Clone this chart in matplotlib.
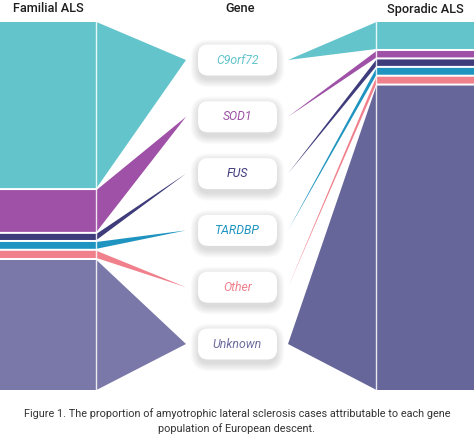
import matplotlib
matplotlib.use('Agg')
import matplotlib.pyplot as plt
from matplotlib.patches import Polygon, FancyBboxPatch

plt.rcParams['font.family'] = ['Roboto', 'DejaVu Sans']

# ==================== data ====================
genes = ['C9orf72', 'SOD1', 'FUS', 'TARDBP', 'Other', 'Unknown']
familial = [45.4, 11.9, 2.2, 2.4, 2.5, 35.6]    # % of familial ALS
sporadic = [7.6, 2.3, 2.3, 2.4, 2.4, 83.0]      # % of sporadic ALS
colors = ['#63c4cc', '#9e51a6', '#3f3c7c', '#1f94c0', '#f0808c', '#7a78a9']
colors_right = ['#63c4cc', '#9e51a6', '#3f3c7c', '#1f94c0', '#f0808c', '#67669a']
caption = ('Figure 1. The proportion of amyotrophic lateral sclerosis cases attributable to each gene\n'
           'population of European descent.')

# ==================== layout (pixels) ====================
W, H = 474, 438
TOP, BOT = 22, 390
GAP = 1.0
LX0, LX1, LTIP = 0, 96.5, 186
RX0, RX1, RTIP = 376.5, 474, 288
BOX_X, BOX_W, BOX_H = 198, 79, 31
CY0, CSTEP = 60, 56.8

fig = plt.figure(figsize=(W / 100, H / 100), dpi=100)
ax = fig.add_axes([0, 0, 1, 1])
ax.set_xlim(0, W)
ax.set_ylim(H, 0)
ax.axis('off')


def segments(vals):
    scale = (BOT - TOP) / sum(vals)
    out, y = [], TOP
    for v in vals:
        out.append((y, y + v * scale))
        y += v * scale
    return out


tips = [CY0 + i * CSTEP for i in range(len(genes))]

for (t, b), tip, c in zip(segments(familial), tips, colors):
    t2 = t + GAP if t > TOP else t
    b2 = b - GAP if b < BOT else b
    ax.add_patch(Polygon([(LX0, t2), (LX1, t2), (LTIP, tip), (LX1, b2), (LX0, b2)],
                         closed=True, fc=c, ec='none'))

for (t, b), tip, c in zip(segments(sporadic), tips, colors_right):
    t2 = t + GAP if t > TOP else t
    b2 = b - GAP if b < BOT else b
    ax.add_patch(Polygon([(RX1, t2), (RX0, t2), (RTIP, tip), (RX0, b2), (RX1, b2)],
                         closed=True, fc=c, ec='none'))

# thin white dividers
ax.plot([LX1, LX1], [TOP, BOT], color='white', lw=1, alpha=0.85)
ax.plot([RX0, RX0], [TOP, BOT], color='white', lw=1, alpha=0.85)

# gene label boxes with soft shadow
for g, cy, c in zip(genes, tips, colors_right[:5] + ['#6f6d9f']):
    for k in range(7):
        pad = 1 + k * 1.2
        ax.add_patch(FancyBboxPatch((BOX_X - pad + 1, cy - BOX_H / 2 - pad + 3.5), BOX_W + 2 * pad - 2,
                                    BOX_H + 2 * pad, boxstyle='round,pad=0,rounding_size=%g' % (10 + pad),
                                    fc='#000000', ec='none', alpha=0.02))
    ax.add_patch(FancyBboxPatch((BOX_X, cy - BOX_H / 2), BOX_W, BOX_H,
                                boxstyle='round,pad=0,rounding_size=10', fc='white', ec='none'))
    ax.text(BOX_X + BOX_W / 2, cy, g, ha='center', va='center', fontsize=8.8,
            style='italic', color=c)

# headers
hdr = dict(ha='center', va='center', fontsize=9.2, color='#1e1e1e', fontweight='medium')
ax.text(48, 9, 'Familial ALS', **hdr)
ax.text(240, 9, 'Gene', **hdr)
ax.text(425, 9, 'Sporadic ALS', **hdr)

ax.text(237, 421, caption, ha='center', va='center', fontsize=7.8, color='#333333',
        linespacing=1.45)

fig.savefig('out.png', dpi=100)
